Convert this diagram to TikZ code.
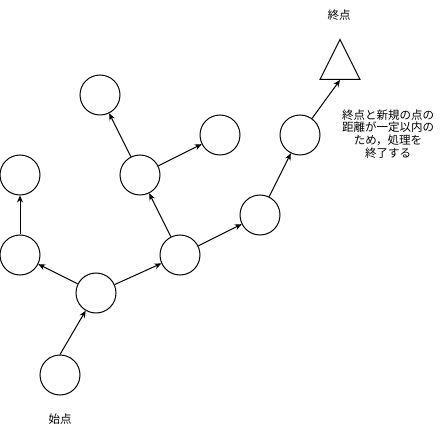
\documentclass[tikz,border=0pt]{standalone}
\usepackage{fontspec}
\setmainfont{Noto Sans CJK JP}
\usetikzlibrary{arrows.meta,shapes.geometric}
\begin{document}
\begin{tikzpicture}[x=1pt,y=-1pt,line width=1pt,
    vertex/.style={circle,draw,minimum size=40pt,inner sep=0pt},
    >={Stealth[length=7pt,width=6pt]},
    font=\fontsize{11.5}{12.7}\selectfont]
  \useasboundingbox (0,0) rectangle (441,435);
  \draw
    (60,375) node[vertex] (0){}
    (96,293) node[vertex] (1){}
    (20,255) node[vertex] (2){}
    (20,175) node[vertex] (3){}
    (180,255) node[vertex] (4){}
    (140,175) node[vertex] (5){}
    (100,95) node[vertex] (6){}
    (220,135) node[vertex] (7){}
    (260,215) node[vertex] (8){}
    (300,135) node[vertex] (9){};
  \node[draw,isosceles triangle,shape border rotate=90,
    isosceles triangle stretches,minimum width=40pt,minimum height=40pt,
    inner sep=0pt,anchor=lower side] (goal) at (340,80) {};
  \node (startlabel) at (60,419) {始点};
  \node (goallabel) at (339,15) {終点};
  \node[align=center] (note) at (388,134)
    {終点と新規の点の\\距離が一定以内の\\ため，処理を\\終了する};
  \begin{scope}[->]
    \draw (0.north) to (1);
    \draw (1) to (2);
    \draw (2) to (3);
    \draw (1) to (4);
    \draw (4) to (5);
    \draw (5) to (6);
    \draw (5) to (7);
    \draw (4) to (8);
    \draw (8) to (9);
    \draw (9) to (goal.lower side);
  \end{scope}
\end{tikzpicture}
\end{document}
